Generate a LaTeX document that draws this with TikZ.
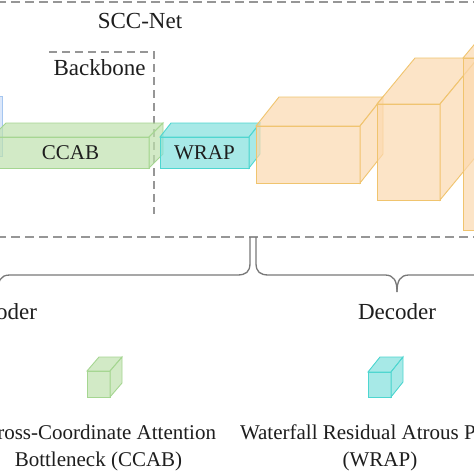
\documentclass[tikz,border=0pt]{standalone}
\usepackage{fontspec}
\setmainfont{Liberation Serif}
\definecolor{txt}{RGB}{30,30,30}
\definecolor{dashgray}{RGB}{150,150,150}
\definecolor{bracegray}{RGB}{120,120,120}
\definecolor{greenF}{RGB}{191,226,174}
\definecolor{greenD}{RGB}{165,214,145}
\definecolor{cyanF}{RGB}{131,225,222}
\definecolor{cyanD}{RGB}{78,214,208}
\definecolor{orangeF}{RGB}{252,217,176}
\definecolor{orangeD}{RGB}{240,196,110}
\definecolor{blueF}{RGB}{205,222,248}
\definecolor{blueD}{RGB}{165,198,240}
\newcommand\cubefaces[4]{%
  \filldraw[#4] (#1.north west) -- ++(#2,#3) -- ([shift={(#2,#3)}]#1.north east) -- (#1.north east) -- cycle;
  \filldraw[#4] (#1.north east) -- ++(#2,#3) -- ([shift={(#2,#3)}]#1.south east) -- (#1.south east) -- cycle;}
\begin{document}
\begin{tikzpicture}[x=1pt,y=-1pt,
  every node/.style={inner sep=0pt,outer sep=0pt,text=txt},
  frame/.style={draw=dashgray,line width=2pt,dash pattern=on 9pt off 5pt},
  bbframe/.style={draw=dashgray,line width=1.3pt,dash pattern=on 8pt off 5pt},
  brace/.style={draw=bracegray,line width=1.3pt},
  greenface/.style={fill=greenF,draw=greenD,fill opacity=0.7,text opacity=1,line width=0.9pt},
  cyanface/.style={fill=cyanF,draw=cyanD,fill opacity=0.7,text opacity=1,line width=0.9pt},
  orangeface/.style={fill=orangeF,draw=orangeD,fill opacity=0.7,text opacity=1,line width=0.9pt},
  blueface/.style={fill=blueF,draw=blueD,fill opacity=0.7,text opacity=1,line width=0.9pt},
  front/.style={anchor=north west,minimum width=#1},
  big/.style={font=\fontsize{23}{27}\selectfont},
  mid/.style={font=\fontsize{21}{25}\selectfont}]
\useasboundingbox (0,0) rectangle (474,474);
\clip (0,0) rectangle (474,474);
\fill[white] (0,0) rectangle (474,474);
% outer SCC-Net dashed frame
\draw[frame] (-3,2) -- (480,2);
\draw[frame] (-3,237) -- (480,237);
\node[big,anchor=base] (scc) at (140,28) {SCC-Net};
% backbone frame
\draw[bbframe] (49,52) -- (154,52) -- (154,214);
\node[big,anchor=base] (bbl) at (99.5,75) {Backbone};
% blue block behind
\node[blueface,front=32,minimum height=60] (blue) at (-30,96) {};
% CCAB bar
\node[greenface,front=157,minimum height=31,mid] (ccab) at (-8,137) {CCAB};
\cubefaces{ccab}{14}{-14}{greenface}
% WRAP block
\node[cyanface,front=89,minimum height=31,mid] (wrap) at (160,137) {WRAP};
\cubefaces{wrap}{11}{-14}{cyanface}
% decoder blocks
\node[orangeface,front=104,minimum height=57] (d1) at (256,126) {};
\cubefaces{d1}{23}{-29}{orangeface}
\node[orangeface,front=63,minimum height=96] (d2) at (377,104) {};
\cubefaces{d2}{38}{-46}{orangeface}
\node[orangeface,front=60,minimum height=172] (d3) at (463,58) {};
\cubefaces{d3}{40}{-48}{orangeface}
% braces
\coordinate (enctip) at (-2,292);
\coordinate (encend) at (250,237);
\coordinate (decstart) at (256,237);
\coordinate (dectip) at (397,292);
\draw[brace] (enctip) .. controls (-2,281) and (0,275) .. (10,275) -- (237,275)
  .. controls (246,275) and (250,272) .. (250,263) -- (encend);
\draw[brace] (decstart) -- (256,263) .. controls (256,272) and (260,275) .. (269,275) -- (385,275)
  .. controls (394,275) and (397,281) .. (dectip);
\draw[brace] (dectip) .. controls (397,281) and (400,275) .. (409,275) -- (525,275)
  .. controls (534,275) and (538,272) .. (538,263) -- (538,237);
\node[big,anchor=base east] (enc) at (37,319) {Encoder};
\node[big,anchor=base] (dec) at (397,319) {Decoder};
% legend
\node[greenface,front=23,minimum height=26] (lgg) at (87,371) {};
\cubefaces{lgg}{12}{-14}{greenface}
\node[cyanface,front=23,minimum height=25] (lgc) at (368,372) {};
\cubefaces{lgc}{12}{-15}{cyanface}
\node[mid,anchor=base east] (lg1a) at (216,439) {Cross-Coordinate Attention};
\node[mid,anchor=base] (lg1b) at (98.5,466) {Bottleneck (CCAB)};
\node[mid,anchor=base west] (lg2a) at (240,439) {Waterfall Residual Atrous Pooling};
\node[mid,anchor=base] (lg2b) at (380,466) {(WRAP)};
\end{tikzpicture}
\end{document}
